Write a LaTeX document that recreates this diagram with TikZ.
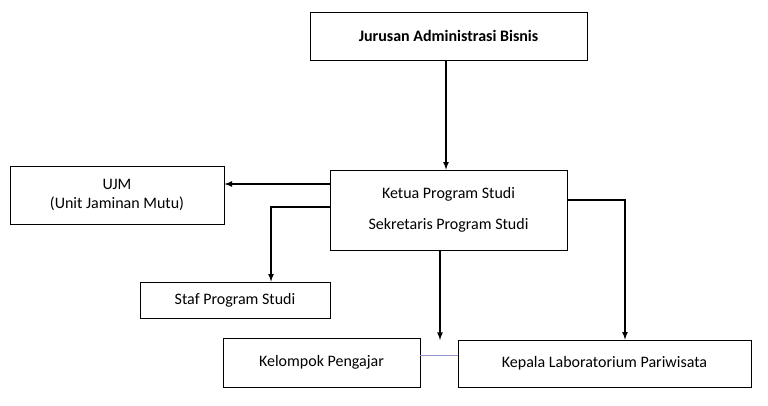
\documentclass[tikz,border=0pt]{standalone}
\usepackage{fontspec}
\setmainfont{Carlito}
\usetikzlibrary{positioning,calc}
\begin{document}
\begin{tikzpicture}[x=1pt,y=-1pt,
    box/.style={draw,thick,inner sep=0pt,font=\fontsize{16}{19}\selectfont},
    arr/.style={-latex,line width=1.6pt}]
\useasboundingbox (0,0) rectangle (768,405);
\node[box,minimum width=277pt,minimum height=48pt,font=\fontsize{16}{19}\selectfont\bfseries] (jab) at (448.5,36) {Jurusan Administrasi Bisnis};
\node[box,minimum width=237pt,minimum height=80pt,align=center] (kps) at (448.5,210) {Ketua Program Studi\\[12pt]Sekretaris Program Studi};
\node[box,minimum width=214pt,minimum height=58pt,align=center] (ujm) at (117,195) {UJM\\(Unit Jaminan Mutu)};
\node[box,minimum width=190pt,minimum height=36pt] (staf) at (235,300) {Staf Program Studi};
\node[box,minimum width=197pt,minimum height=49pt] (kp) at (321.5,362.5) {Kelompok Pengajar};
\node[box,minimum width=293pt,minimum height=47pt] (kl) at (604.5,363.5) {Kepala Laboratorium Pariwisata};
%
\draw[arr] (jab.south -| 446,0) -- (kps.north -| 446,0);
\draw[arr] (kps.west |- 0,184) -- (ujm.east |- 0,184);
\draw[arr] (kps.west |- 0,207) -| (staf.north -| 271,0);
\draw[arr] (kps.south -| 440,0) -- (440,340);
\draw[arr] (kps.east |- 0,200) -| (kl.north -| 625,0);
\draw[gray!60!blue!60] (kp.east |- 0,355) -- (kl.west |- 0,355);
\end{tikzpicture}
\end{document}
